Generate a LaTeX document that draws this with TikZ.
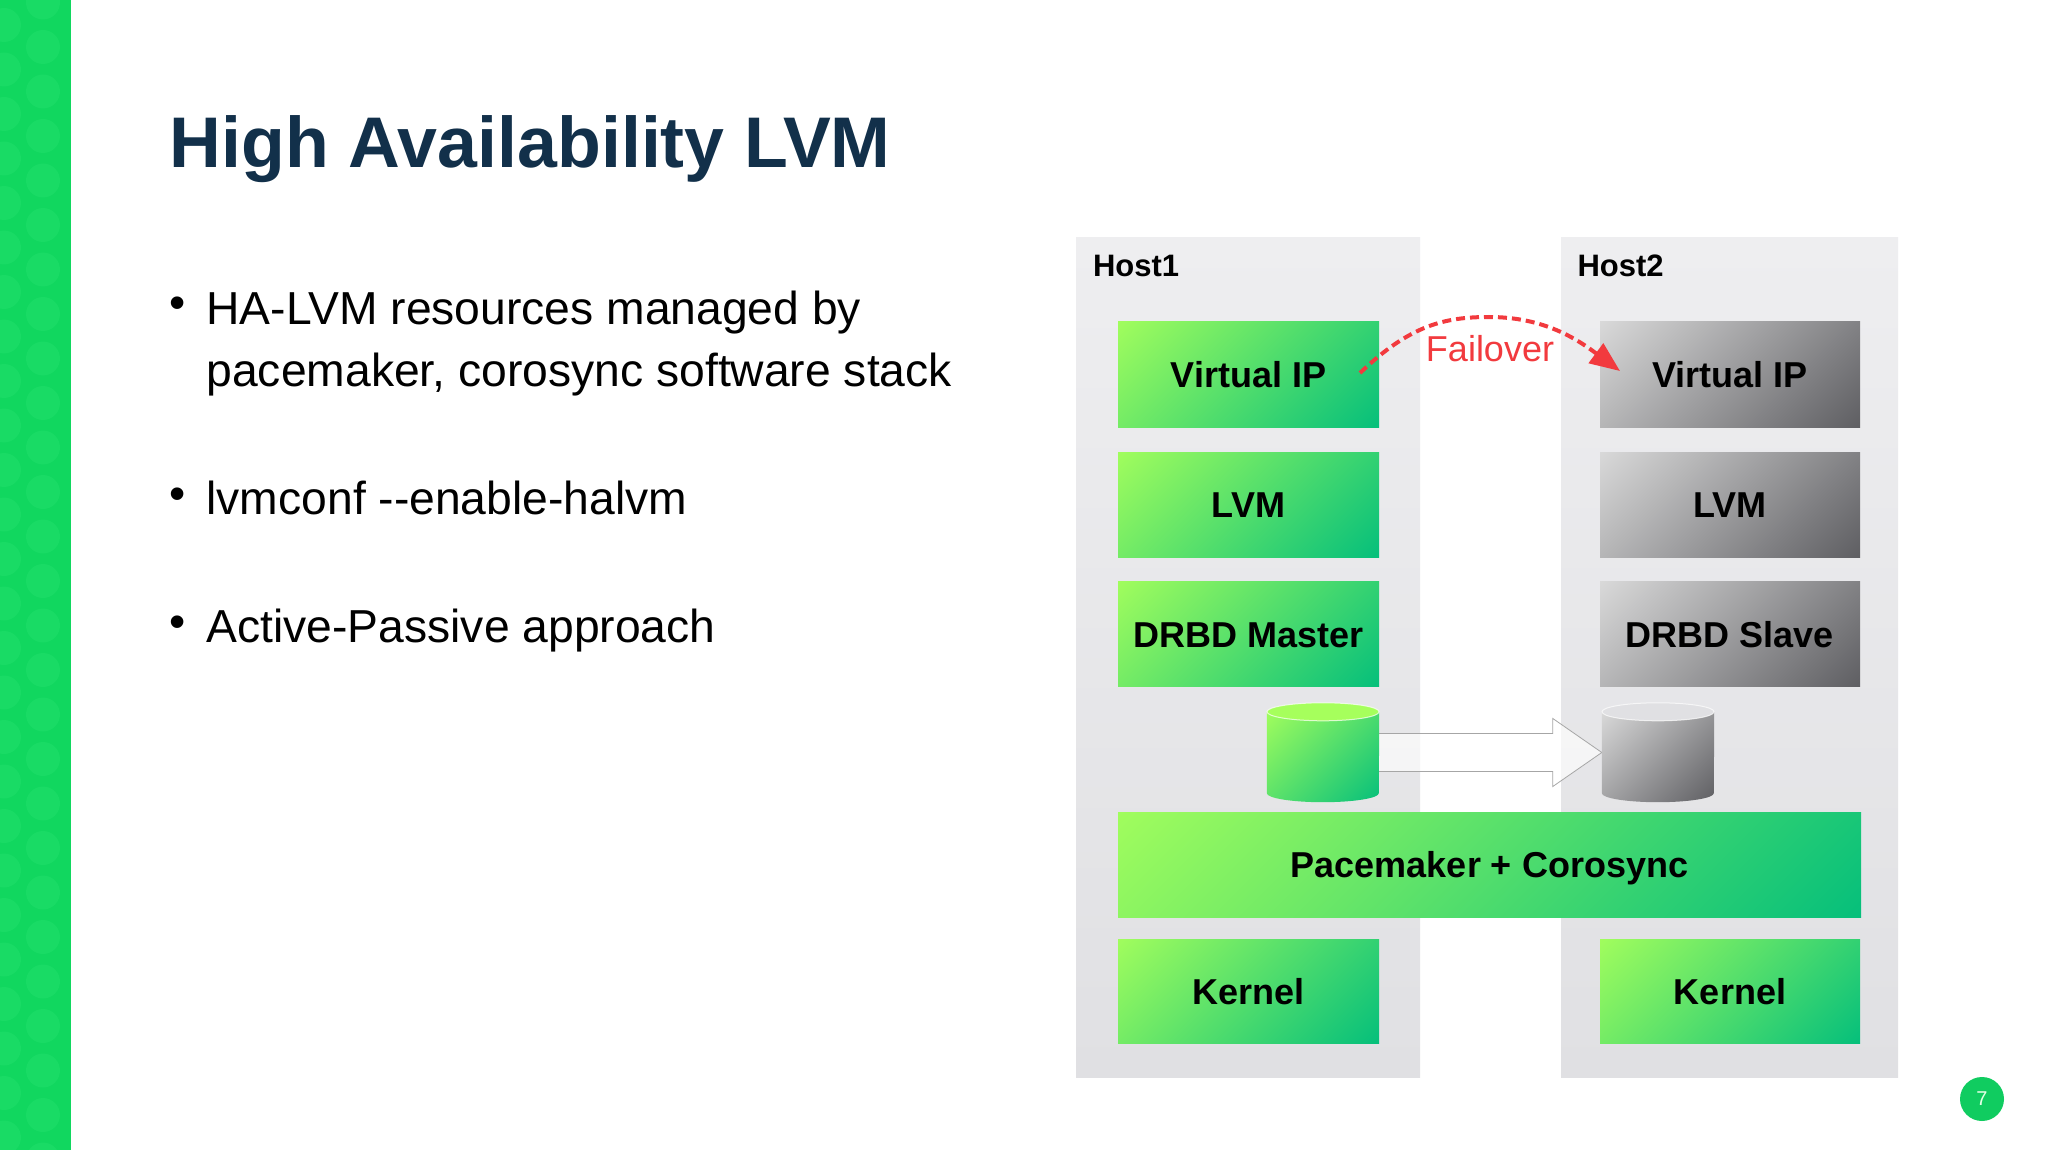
\documentclass[tikz,border=0pt]{standalone}
\usepackage{fontspec}
\setmainfont{Liberation Sans}
\usetikzlibrary{arrows.meta,calc}
\definecolor{ttl}{HTML}{12304A}
\definecolor{side}{HTML}{11D75F}
\definecolor{dot}{HTML}{19DB65}
\definecolor{badge}{HTML}{10CC60}
\definecolor{gA}{HTML}{A6FF5C}
\definecolor{gB}{HTML}{00BD7C}
\definecolor{kA}{HTML}{DDDDDD}
\definecolor{kB}{HTML}{5A5A5E}
\definecolor{redd}{HTML}{F23A3E}
\definecolor{pnlA}{HTML}{EEEEF0}
\definecolor{pnlB}{HTML}{E0E0E3}
\newcommand{\fsz}[1]{\fontsize{#1}{#1}\selectfont}
\pgfdeclareverticalshading{diagG}{100bp}{color(0bp)=(gB);color(12bp)=(gB);color(88bp)=(gA);color(100bp)=(gA)}
\pgfdeclareverticalshading{diagK}{100bp}{color(0bp)=(kB);color(12bp)=(kB);color(88bp)=(kA);color(100bp)=(kA)}
\tikzset{
 x=1pt,y=-1pt,
 panel/.style={shading=axis,top color=pnlA,bottom color=pnlB,draw=none},
 box/.style={rectangle,minimum width=261pt,minimum height=105pt,inner sep=0pt,text=black,font=\fsz{36}\bfseries,text height=26pt,text depth=0pt},
 gbox/.style={box,shading=diagG,shading angle=45},
 kbox/.style={box,shading=diagK,shading angle=45,minimum width=260pt},
 hostlbl/.style={anchor=base west,font=\fsz{31}\bfseries,text=black},
 bodytxt/.style={anchor=base west,font=\fsz{46.25},text=black},
 cylbox/.style={rectangle,minimum width=112pt,minimum height=99pt,inner sep=0pt},
}
\begin{document}
\begin{tikzpicture}
\useasboundingbox (0,0) rectangle (2048,1150);
\fill[white] (0,0) rectangle (2048,1150);
% side band
\fill[side] (0,0) rectangle (71,1150);
\begin{scope}
\clip (0,0) rectangle (71,1150);
\foreach \i in {-1,...,13}{
  \fill[dot] (43,{\i*89+47}) circle (17);
  \fill[dot] (43,{\i*89+2.5}) circle (17);
  \fill[dot] (4,{\i*89+25}) circle (17);
  \fill[dot] (4,{\i*89+69.5}) circle (17);
}
\end{scope}
% title and text
\node[anchor=base west,font=\fsz{71.7}\bfseries,text=ttl] (title) at (166,168) {High Availability LVM};
\node[bodytxt] (b1) at (166,319) {•};
\node[bodytxt] (t1) at (203,325) {HA-LVM resources managed by};
\node[bodytxt] (t2) at (203,386) {pacemaker, corosync software stack};
\node[bodytxt] (b2) at (166,509) {•};
\node[bodytxt] (t3) at (203,514) {lvmconf -{}-enable-halvm};
\node[bodytxt] (b3) at (166,637) {•};
\node[bodytxt] (t4) at (203,642) {Active-Passive approach};
% panels
\path[panel] (1076,238) rectangle (1420,1077);
\path[panel] (1561,238) rectangle (1898,1077);
\node[hostlbl] (h1) at (1089.5,276.5) {Host1};
\node[hostlbl] (h2) at (1574,276.5) {Host2};
% nodes
\node[gbox] (v1) at (1248.5,374.5) {Virtual IP};
\node[gbox] (l1) at (1248.5,504.5) {LVM};
\node[gbox] (d1) at (1248.5,634) {DRBD Master};
\node[kbox] (v2) at (1730,374.5) {Virtual IP};
\node[kbox] (l2) at (1730,504.5) {LVM};
\node[kbox] (d2) at (1730,634) {DRBD Slave};
\node[gbox,minimum width=743pt] (pc) at (1489.5,864.5) {Pacemaker + Corosync};
\node[gbox,minimum height=104pt] (k1) at (1248.5,991) {Kernel};
\node[gbox,minimum width=260pt,minimum height=104pt] (k2) at (1730,991) {Kernel};
% storage
\node[cylbox] (c1) at (1323,752.5) {};
\node[cylbox] (c2) at (1658,752.5) {};
\path[fill=white,fill opacity=.65,draw=black!35,line width=.8pt]
  ($(c1.east)+(0,-19)$) -- ($(c2.west)+(-49,-19)$) -- ($(c2.west)+(-49,-34)$) -- (c2.west)
  -- ($(c2.west)+(-49,34)$) -- ($(c2.west)+(-49,19)$) -- ($(c1.east)+(0,19)$);
\foreach \n/\s/\e in {c1/diagG/gA,c2/diagK/pnlB}{
  \path[shading=\s,shading angle=45]
    ($(\n.north west)+(0,9)$) -- ($(\n.south west)+(0,-9)$)
    arc[start angle=180,end angle=360,x radius=56,y radius=-9]
    -- ($(\n.north east)+(0,9)$) -- cycle;
  \path[fill=\e,draw=white,line width=1pt,draw opacity=.7] ($(\n.north)+(0,9)$) ellipse[x radius=56,y radius=9];
}
% failover
\coordinate (fs) at (1360,373);
\coordinate (fe) at (1620,371);
\draw[redd,line width=4pt,dash pattern=on 9pt off 5pt,-{Triangle[length=30pt,width=24pt]}]
  (fs) .. controls (1410,325) and (1445,317) .. (1489,317) .. controls (1545,317) and (1578,340) .. (fe);
\node[font=\fsz{36},text=redd,inner sep=0pt] (fo) at (1490,349) {Failover};
% badge
\node[circle,fill=badge,minimum size=44pt,inner sep=0pt,text=white!90!green,font=\fsz{20}] (pg) at (1982,1099) {7};
\end{tikzpicture}
\end{document}
